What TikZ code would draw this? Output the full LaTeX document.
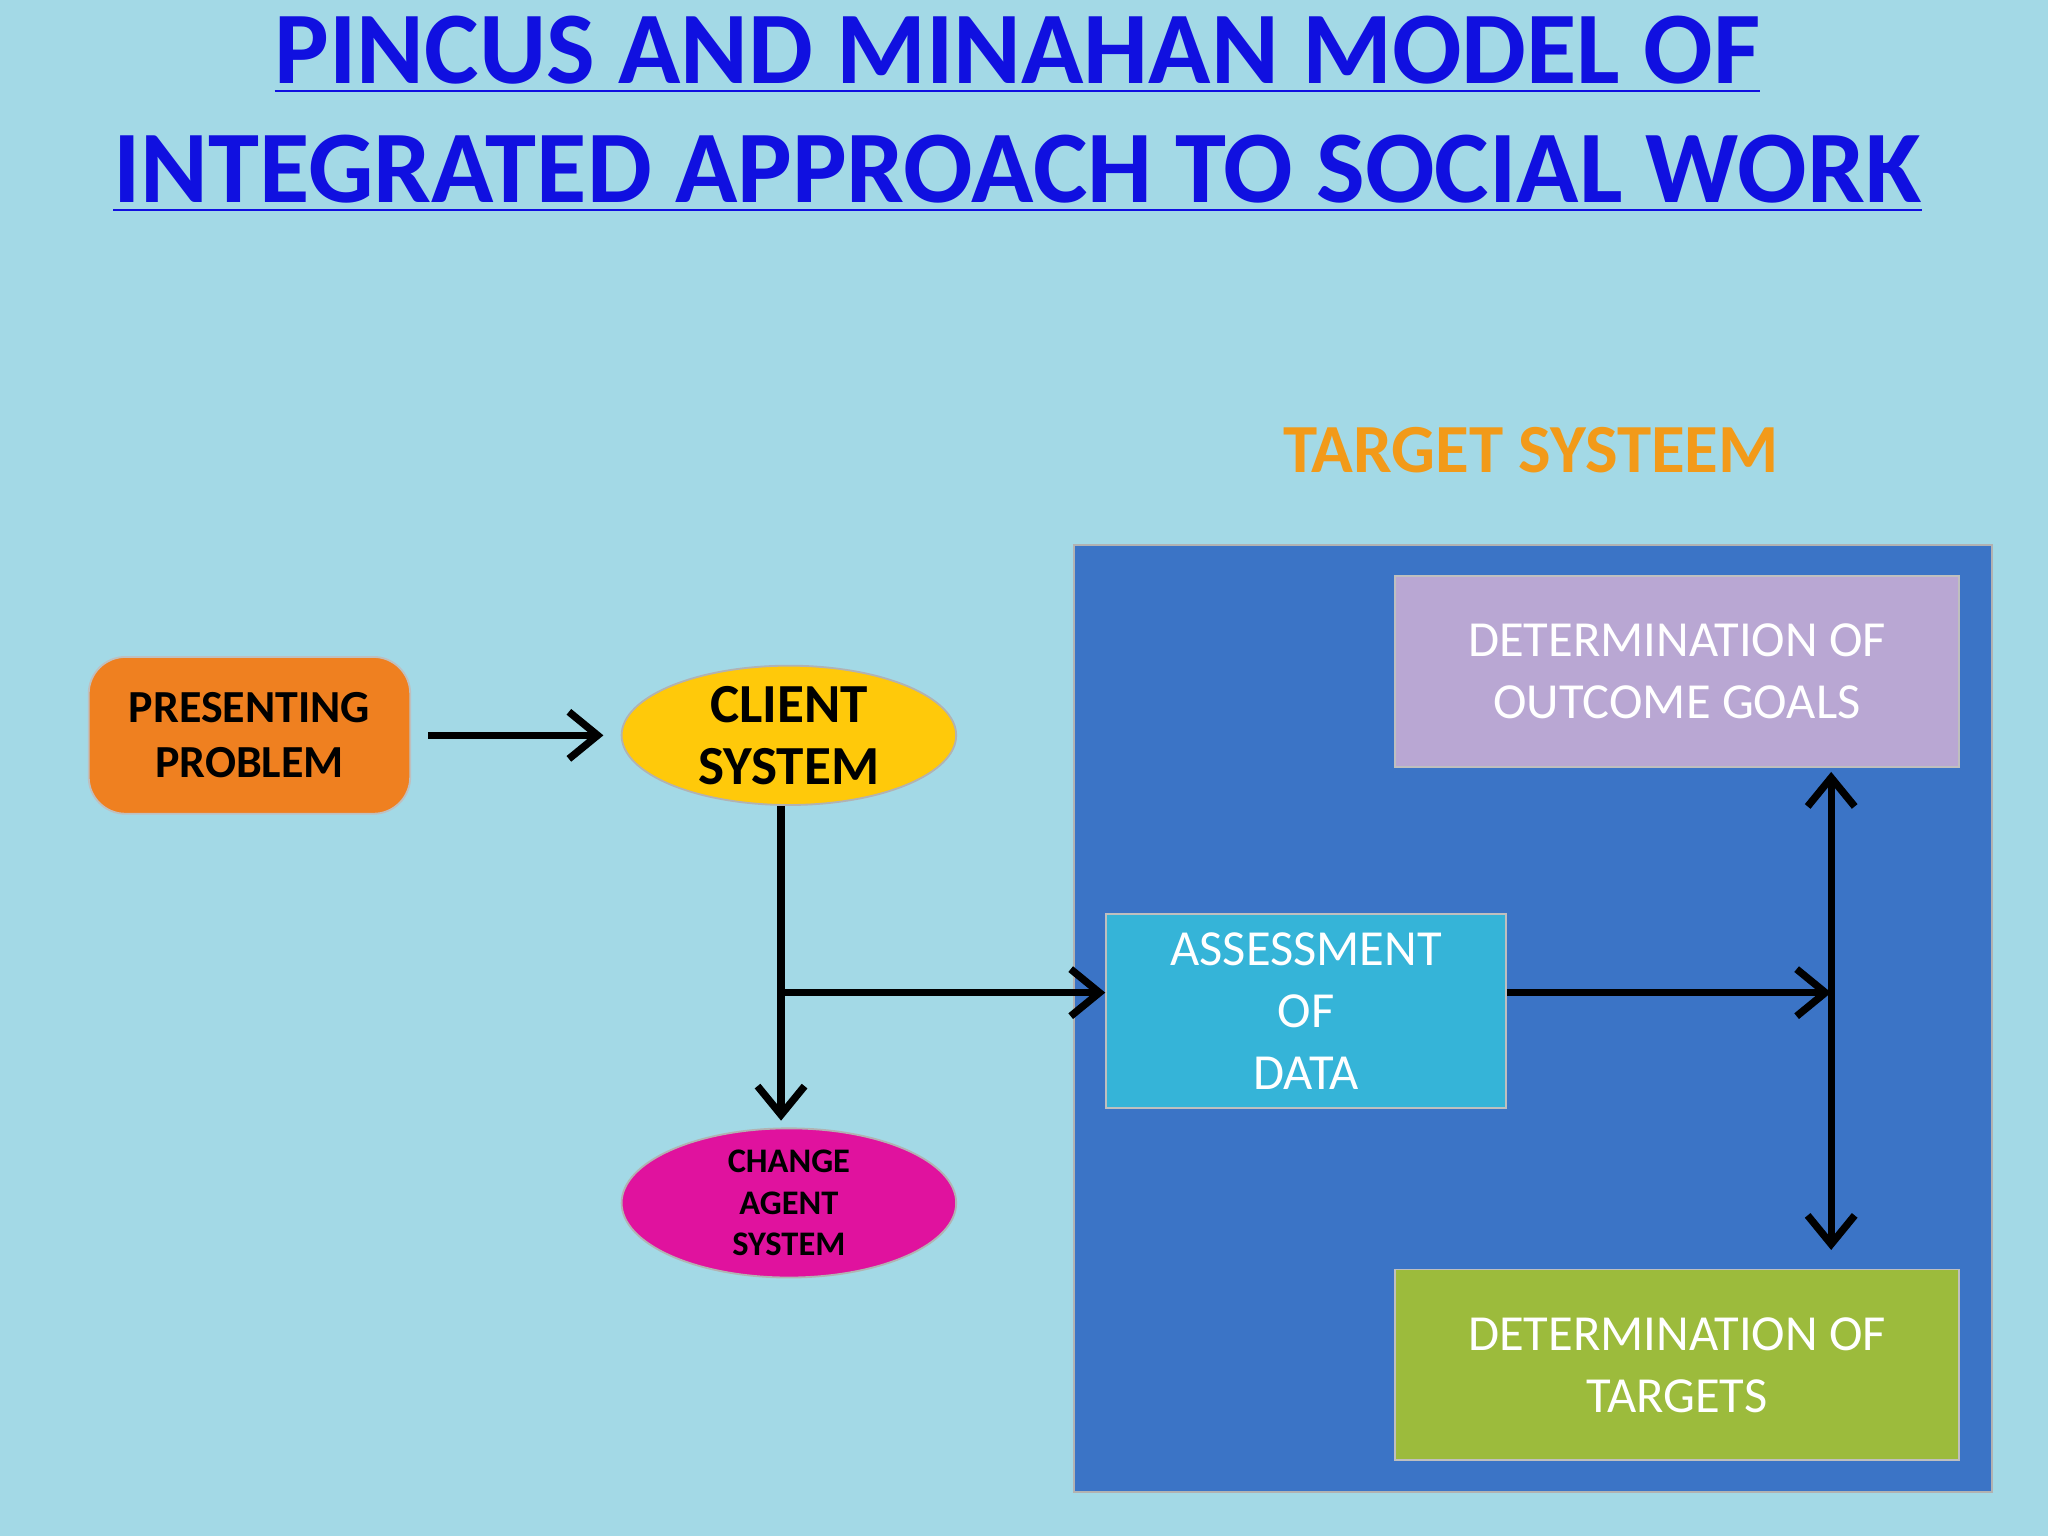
\documentclass[tikz,border=0pt]{standalone}
\usepackage{fontspec}
\setmainfont{Carlito}
\usetikzlibrary{shapes.geometric,arrows.meta}
\definecolor{bgwater}{HTML}{A3D9E6}
\definecolor{tgtblue}{HTML}{3B74C6}
\definecolor{lilac}{HTML}{B9A7D3}
\definecolor{lime}{HTML}{9CBB3C}
\definecolor{aqua}{HTML}{35B4D8}
\definecolor{orng}{HTML}{EF8020}
\definecolor{yell}{HTML}{FFC90A}
\definecolor{mage}{HTML}{E0129E}
\definecolor{ttlblue}{HTML}{1010E0}
\tikzset{
  box/.style = {draw=black!25, align=center, text=white, font=\fontsize{11}{13.5}\selectfont},
  oval/.style = {ellipse, draw=black!30, align=center, inner sep=0pt, font=\bfseries},
  link/.style = {ultra thick, -{Straight Barb[length=2.2mm,width=3.6mm]}},
  ttl/.style = {text=ttlblue, font=\fontsize{22.4}{24}\bfseries\selectfont}
}
\begin{document}
\begin{tikzpicture}[x=0.01cm, y=-0.01cm]
        \fill[bgwater] (0,0) rectangle (1568,1176);
        \useasboundingbox (0,0) rectangle (1568,1176);
        % title
        \node[ttl] (ttla) at (779,42) {\underline{PINCUS AND MINAHAN MODEL OF}};
        \node[ttl] (ttlb) at (779,133) {\underline{INTEGRATED APPROACH TO SOCIAL WORK}};
        \node[text=orng!80!yellow, font=\fontsize{15}{18}\bfseries\selectfont] (tgt) at (1172,345) {TARGET SYSTEEM};
        % target system block
        \draw[fill=tgtblue, draw=black!30] (822,417) rectangle (1525,1142);
        \node[box, fill=lilac, minimum width=4.32cm, minimum height=1.46cm] (goals) at (1284,514) {DETERMINATION OF\\OUTCOME GOALS};
        \node[box, fill=lime, minimum width=4.32cm, minimum height=1.46cm] (targets) at (1284,1045) {DETERMINATION OF\\TARGETS};
        \node[box, fill=aqua, minimum width=3.06cm, minimum height=1.48cm] (assess) at (1000,774) {ASSESSMENT\\OF\\DATA};
        % left side
        \node[rounded corners=8pt, draw=black!25, fill=orng, align=center, font=\bfseries, minimum width=2.46cm, minimum height=1.2cm] (prob) at (191,563) {PRESENTING\\PROBLEM};
        \node[oval, fill=yell, minimum width=2.56cm, minimum height=0.94cm, font=\fontsize{12}{13.5}\bfseries\selectfont] (client) at (604,563) {CLIENT\\SYSTEM};
        \node[oval, fill=mage, minimum width=2.56cm, minimum height=0.94cm, font=\fontsize{7.5}{9}\bfseries\selectfont] (agent) at (604,921) {CHANGE\\AGENT\\SYSTEM};
        \coordinate (split) at (598,760);
        \coordinate (join) at (1402,760);
        % connectors
        \draw[link] (328,563) -- (462,563);
        \draw[link] (client.south -| split) -- (598,858);
        \draw[link] (split) -- (split -| assess.west);
        \draw[link] (assess.east |- join) -- (join);
        \draw[link, {Straight Barb[length=2.2mm,width=3.6mm]}-{Straight Barb[length=2.2mm,width=3.6mm]}] (1402,591) -- (1402,957);
\end{tikzpicture}
\end{document}
